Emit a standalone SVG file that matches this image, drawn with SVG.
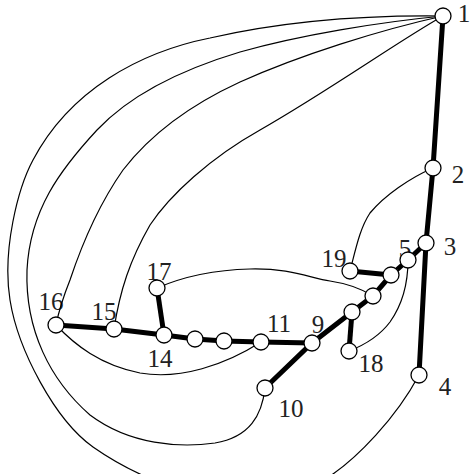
<svg xmlns="http://www.w3.org/2000/svg" width="474" height="474" viewBox="0 0 474 474">
<style>
.thin{fill:none;stroke:#000;stroke-width:1.2}
.thick{fill:none;stroke:#000;stroke-width:5}
.node{fill:#fff;stroke:#000;stroke-width:1.3}
.lbl{font-family:"Liberation Serif",serif;font-size:25px;fill:#222;text-anchor:middle}
</style>
<rect width="474" height="474" fill="#fff"/>
<g id="labels">
<text class="lbl" x="464" y="22">1</text>
<text class="lbl" x="458" y="183">2</text>
<text class="lbl" x="450" y="255">3</text>
<text class="lbl" x="445" y="395">4</text>
<text class="lbl" x="405" y="257">5</text>
<text class="lbl" x="318" y="333">9</text>
<text class="lbl" x="291" y="417">10</text>
<text class="lbl" x="279" y="332">11</text>
<text class="lbl" x="160" y="367">14</text>
<text class="lbl" x="104" y="320">15</text>
<text class="lbl" x="51" y="310">16</text>
<text class="lbl" x="159" y="280">17</text>
<text class="lbl" x="371" y="372">18</text>
<text class="lbl" x="334" y="267">19</text>
</g>
<g id="connectors">
<path class="thin" d="M443,16 C 360,15 280,22 210,38 C 140,52 70,90 33,160 C 18,188 2,250 10,300 C 18,350 55,420 93,447 C 130,473 190,500 240,500 C 280,500 310,490 333,474 C 356,458 395,420 419,375"/>
<path class="thin" d="M443,16 C 380,22 300,35 240,52 C 180,70 130,95 97,130 C 60,170 30,210 27,270 C 25,330 50,380 90,415 C 130,445 180,448 215,443 C 250,437 262,415 265,388"/>
<path class="thin" d="M443,16 C 380,30 300,55 240,82 C 190,105 150,135 123,170 C 95,210 80,250 70,280 C 62,300 58,315 56,325"/>
<path class="thin" d="M443,16 C 400,40 330,90 260,130 C 210,158 170,195 150,225 C 130,260 120,290 114,329"/>
<path class="thin" d="M433,168 C 410,178 385,195 370,213 C 360,228 356,248 350,271"/>
<path class="thin" d="M408,260 C 408,285 402,305 390,322 C 378,338 362,346 349,351"/>
<path class="thin" d="M157,288 C 180,278 210,270 250,269 C 290,268 310,278 330,281 C 350,284 362,289 373,296"/>
<path class="thin" d="M56,325 C 75,345 100,365 140,373 C 180,380 225,365 261,342"/>
<path class="thick" d="M443,16 L433,168 L426,243 L419,375"/>
<path class="thick" d="M426,243 L408,260 L391,275 L373,296 L352,312 L312,343 L265,388"/>
<path class="thick" d="M391,275 L350,271"/>
<path class="thick" d="M352,312 L349,351"/>
<path class="thick" d="M312,343 L261,342 L224,341 L195,339 L164,335 L114,329 L56,325"/>
<path class="thick" d="M164,335 L157,288"/>
</g>
<g id="n1"><circle class="node" cx="443" cy="16" r="8"/></g>
<g id="n2"><circle class="node" cx="433" cy="168" r="8"/></g>
<g id="n3"><circle class="node" cx="426" cy="243" r="8"/></g>
<g id="n4"><circle class="node" cx="419" cy="375" r="8"/></g>
<g id="n5"><circle class="node" cx="408" cy="260" r="8"/></g>
<g id="n6"><circle class="node" cx="391" cy="275" r="8"/></g>
<g id="n7"><circle class="node" cx="373" cy="296" r="8"/></g>
<g id="n8"><circle class="node" cx="352" cy="312" r="8"/></g>
<g id="n9"><circle class="node" cx="312" cy="343" r="8"/></g>
<g id="n10"><circle class="node" cx="265" cy="388" r="8"/></g>
<g id="n11"><circle class="node" cx="261" cy="342" r="8"/></g>
<g id="n12"><circle class="node" cx="224" cy="341" r="8"/></g>
<g id="n13"><circle class="node" cx="195" cy="339" r="8"/></g>
<g id="n14"><circle class="node" cx="164" cy="335" r="8"/></g>
<g id="n15"><circle class="node" cx="114" cy="329" r="8"/></g>
<g id="n16"><circle class="node" cx="56" cy="325" r="8"/></g>
<g id="n17"><circle class="node" cx="157" cy="288" r="8"/></g>
<g id="n18"><circle class="node" cx="349" cy="351" r="8"/></g>
<g id="n19"><circle class="node" cx="350" cy="271" r="8"/></g>
</svg>
